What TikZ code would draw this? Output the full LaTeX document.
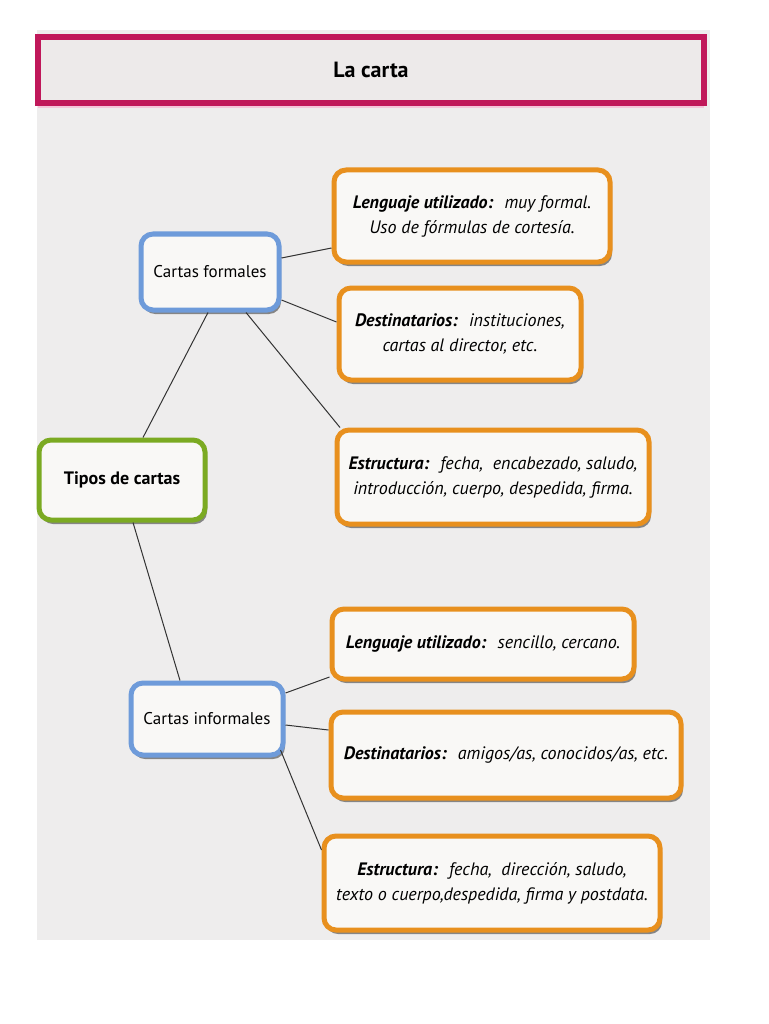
\documentclass[tikz,border=0pt]{standalone}
\usepackage{fontspec}
\setmainfont{PT Sans}
\usetikzlibrary{shadows}
\definecolor{bgc}{HTML}{EEEDED}
\definecolor{crim}{HTML}{C0185A}
\definecolor{pinkglow}{HTML}{F4C6DA}
\definecolor{bluec}{HTML}{6E9BDA}
\definecolor{greenc}{HTML}{7BAA22}
\definecolor{orangec}{HTML}{E8901E}
\definecolor{inner}{HTML}{F9F8F6}
\definecolor{titlefill}{HTML}{EDEAEA}
\tikzset{
  boxbase/.style={rectangle, rounded corners=12pt, line width=5pt, fill=inner, align=center, inner sep=0pt,
    drop shadow={shadow xshift=2pt, shadow yshift=-4pt, opacity=0.6, fill=black!75}},
  bluebox/.style={boxbase, draw=bluec, font=\fontsize{17}{20}\selectfont},
  greenbox/.style={boxbase, draw=greenc, font=\fontsize{18}{21}\selectfont\bfseries},
  orangebox/.style={boxbase, draw=orangec, font=\fontsize{18}{25}\selectfont\itshape},
  titlebox/.style={rectangle, draw=crim, line width=6pt, fill=titlefill, inner sep=0pt,
    drop shadow={shadow xshift=0pt, shadow yshift=-5pt, opacity=1, fill=pinkglow},
    font=\fontsize{22}{26}\selectfont\bfseries},
  link/.style={draw=black!80, line width=1pt}
}
\begin{document}
\begin{tikzpicture}[x=1pt,y=-1pt]
\useasboundingbox (0,0) rectangle (768,1024);
\fill[white] (0,0) rectangle (768,1024);
\fill[bgc] (37,30) rectangle (710,940);

\node[titlebox, minimum width=666pt, minimum height=66pt] (title) at (371,70) {La carta};

\node[bluebox, minimum width=138pt, minimum height=76pt] (cf) at (210,272) {Cartas formales};
\node[greenbox, minimum width=166pt, minimum height=80pt] (tipos) at (122,480) {Tipos de cartas};
\node[bluebox, minimum width=152pt, minimum height=72pt] (ci) at (207,719) {Cartas informales};

\node[orangebox, minimum width=276pt, minimum height=92pt] (b1) at (472,216)
  {\textbf{Lenguaje utilizado:} \ muy formal.\\Uso de fórmulas de cortesía.};
\node[orangebox, minimum width=242pt, minimum height=92pt] (b2) at (460,334)
  {\textbf{Destinatarios:} \ instituciones,\\cartas al director, etc.};
\node[orangebox, minimum width=312pt, minimum height=94pt] (b3) at (493,477)
  {\textbf{Estructura:} \ fecha, \ encabezado, saludo,\\introducción, cuerpo, despedida, firma.};
\node[orangebox, minimum width=302pt, minimum height=70pt] (b4) at (483,644)
  {\textbf{Lenguaje utilizado:} \ sencillo, cercano.};
\node[orangebox, minimum width=350pt, minimum height=86pt] (b5) at (506,755)
  {\textbf{Destinatarios:} \ amigos/as, conocidos/as, etc.};
\node[orangebox, minimum width=336pt, minimum height=94pt] (b6) at (492,883)
  {\textbf{Estructura:} \ fecha, \ dirección, saludo,\\texto o cuerpo,despedida, firma y postdata.};

\draw[link] ([xshift=21pt]tipos.north) -- ([xshift=-2pt]cf.south);
\draw[link] ([xshift=11pt]tipos.south) -- ([xshift=-27pt]ci.north);
\draw[link] ([yshift=14pt]cf.east) -- ([yshift=-32pt]b1.west);
\draw[link] ([yshift=-28pt]cf.east) -- ([yshift=12pt]b2.west);
\draw[link] ([xshift=36pt]cf.south) -- ([xshift=-153pt]b3.north);
\draw[link] ([yshift=26pt]ci.east) -- ([yshift=-33pt]b4.west);
\draw[link] ([yshift=-6pt]ci.east) -- ([yshift=25pt]b5.west);
\draw[link] ([xshift=-5pt,yshift=-31pt]ci.east) -- ([yshift=33pt]b6.west);
\end{tikzpicture}
\end{document}
